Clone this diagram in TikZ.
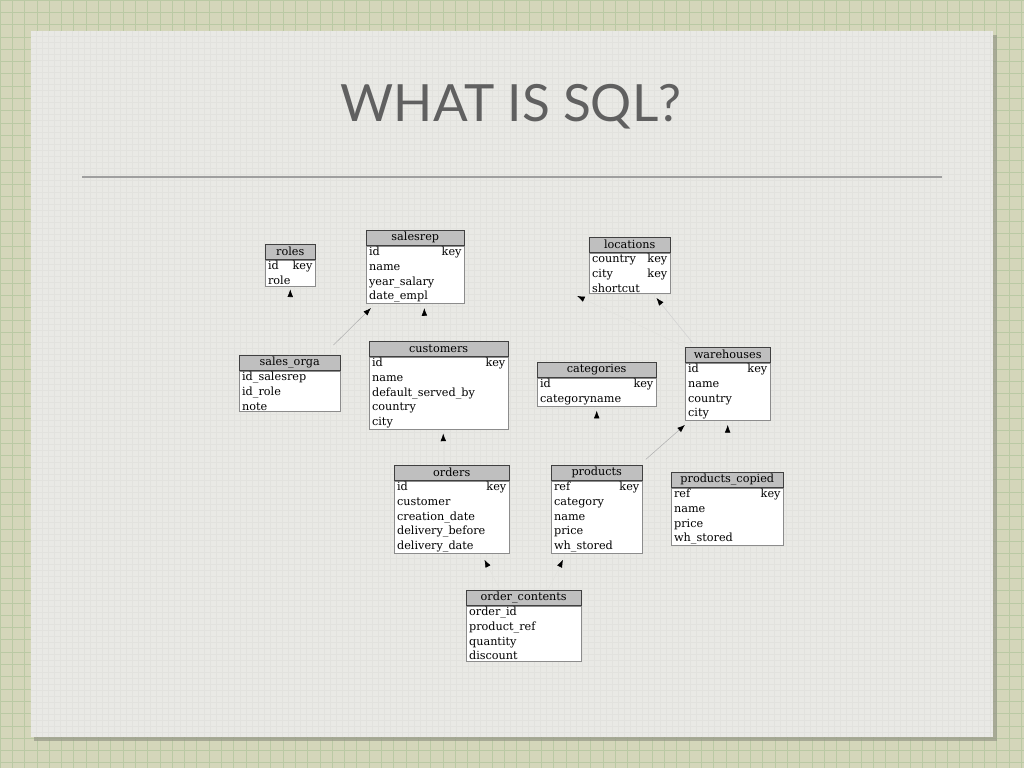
\documentclass[tikz,border=0pt]{standalone}
\usepackage{fontspec}
\usetikzlibrary{positioning,arrows.meta}
\newfontfamily\tabfont{DejaVu Serif}
\newfontfamily\titlefont{Lato}
\definecolor{paper}{RGB}{212,214,186}
\definecolor{gridline}{RGB}{186,201,164}
\definecolor{slide}{RGB}{233,233,229}
\definecolor{slideshadow}{RGB}{150,152,136}
\definecolor{titlegray}{RGB}{96,96,96}
% field that is a key
\newcommand{\kf}[1]{#1\hskip 0pt plus 1filll key}
\tikzset{
  tabhead/.style={draw=black!75, fill=black!25, inner xsep=2pt, inner ysep=0pt,
    minimum height=0.375cm, align=center, anchor=north west,
    font=\tabfont\fontsize{8}{9}\selectfont},
  tabbody/.style={draw=black!45, fill=white, inner xsep=2pt, inner ysep=1pt,
    align=left, below=0pt of #1, font=\tabfont\fontsize{8}{10.4}\selectfont},
  fk/.style={draw=slide!97!black, line width=0.4pt, -{Latex[length=5.5pt,width=4pt,black]}},
  fkseen/.style={fk, draw=gray!60},
}
\begin{document}
\begin{tikzpicture}[x=0.025cm, y=-0.025cm]
\useasboundingbox (0,0) rectangle (1024,768);
% paper and slide
\fill[paper] (0,0) rectangle (1024,768);
\draw[gridline, line width=0.5pt, step=0.3075cm] (0,0) grid (1024,768);
\fill[slideshadow, opacity=0.7] (34,35) rectangle (997,741);
\fill[slide] (31,31) rectangle (993,737);
\draw[slide!97!black, line width=0.2pt, step=0.15cm] (31,31) grid (993,737);

\node[font=\titlefont\fontsize{36.5}{40}\selectfont, text=titlegray] (title) at (511,107) {WHAT IS SQL?};
\draw[gray!75, line width=0.8pt] (82,177) -- (942,177);

% tables
\node[tabhead, text width=1.11cm] (roles) at (265,244) {roles};
\node[tabbody=roles, text width=1.11cm] (roles-b) {\kf{id}\\role};

\node[tabhead, text width=2.31cm] (salesrep) at (366,230) {salesrep};
\node[tabbody=salesrep, text width=2.31cm] (salesrep-b) {\kf{id}\\name\\year\_salary\\date\_empl};

\node[tabhead, text width=1.88cm] (locations) at (589,237) {locations};
\node[tabbody=locations, text width=1.88cm] (locations-b) {\kf{country}\\\kf{city}\\shortcut};

\node[tabhead, text width=2.38cm] (sales_orga) at (239,355) {sales\_orga};
\node[tabbody=sales_orga, text width=2.38cm] (sales_orga-b) {id\_salesrep\\id\_role\\note};

\node[tabhead, text width=3.33cm] (customers) at (369,341) {customers};
\node[tabbody=customers, text width=3.33cm] (customers-b) {\kf{id}\\name\\default\_served\_by\\country\\city};

\node[tabhead, text width=2.83cm] (categories) at (537,362) {categories};
\node[tabbody=categories, text width=2.83cm] (categories-b) {\kf{id}\\categoryname};

\node[tabhead, text width=1.98cm] (warehouses) at (685,347) {warehouses};
\node[tabbody=warehouses, text width=1.98cm] (warehouses-b) {\kf{id}\\name\\country\\city};

\node[tabhead, text width=2.73cm] (orders) at (394,465) {orders};
\node[tabbody=orders, text width=2.73cm] (orders-b) {\kf{id}\\customer\\creation\_date\\delivery\_before\\delivery\_date};

\node[tabhead, text width=2.13cm] (products) at (551,465) {products};
\node[tabbody=products, text width=2.13cm] (products-b) {\kf{ref}\\category\\name\\price\\wh\_stored};

\node[tabhead, text width=2.66cm] (products_copied) at (671,472) {products\_copied};
\node[tabbody=products_copied, text width=2.66cm] (products_copied-b) {\kf{ref}\\name\\price\\wh\_stored};

\node[tabhead, text width=2.73cm] (order_contents) at (466,590) {order\_contents};
\node[tabbody=order_contents, text width=2.73cm] (order_contents-b) {order\_id\\product\_ref\\quantity\\discount};

% foreign keys
\draw[fk] (sales_orga.north) -- ([shift={(0,3)}]roles-b.south);
\draw[fkseen, shorten <=10pt] ([shift={(-17,0)}]sales_orga.north east) -- ([shift={(5,4)}]salesrep-b.south west);
\draw[fk] ([shift={(-14,0)}]customers.north) -- ([shift={(9,4)}]salesrep-b.south);
\draw[fk] (warehouses.north west) -- ([shift={(-12,2)}]locations-b.south west);
\draw[fkseen, draw=gray!35, shorten <=4pt] ([shift={(11,0)}]warehouses.north west) -- ([shift={(-14,4)}]locations-b.south east);
\draw[fk] ([shift={(-8,0)}]orders.north) -- ([shift={(4.5,4)}]customers-b.south);
\draw[fk] (products.north) -- ([shift={(0,4)}]categories-b.south);
\draw[fkseen, shorten <=6pt] ([shift={(-3,0)}]products.north east) -- ([shift={(0,4)}]warehouses-b.south west);
\draw[fk] (products_copied.north) -- ([shift={(0,4)}]warehouses-b.south);
\draw[fk] ([shift={(-23.5,0)}]order_contents.north) -- ([shift={(-25,6)}]orders-b.south east);
\draw[fk] ([shift={(24.5,0)}]order_contents.north) -- ([shift={(12,6)}]products-b.south west);
\end{tikzpicture}
\end{document}
